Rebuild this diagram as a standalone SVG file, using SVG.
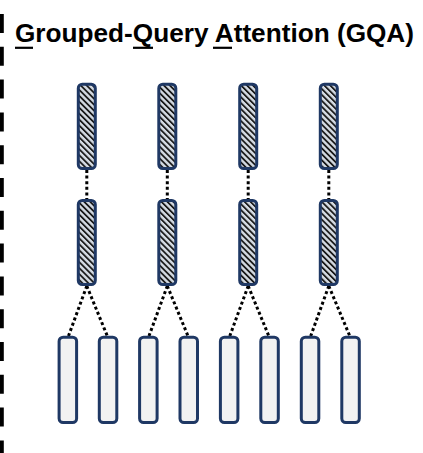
<svg xmlns="http://www.w3.org/2000/svg" width="423" height="453" viewBox="0 0 423 453">
  <style>
    .title { font-family: "Liberation Sans", Arial, sans-serif; font-weight: bold; font-size: 26.5px; fill: #000; }
    .uline { stroke: #000; stroke-width: 2.2; }
    .kv { fill: url(#hatch); stroke: #1f3864; stroke-width: 3; }
    .q { fill: #f2f2f2; stroke: #1f3864; stroke-width: 3; }
    .dot { stroke: #000; stroke-width: 3; stroke-dasharray: 3 2.6; fill: none; }
    .frame { stroke: #000; stroke-width: 4; stroke-dasharray: 19 13.8; fill: none; }
  </style>
  <defs>
    <pattern id="hatch" patternUnits="userSpaceOnUse" width="4.2" height="4.2" patternTransform="rotate(-45)">
      <rect x="0" y="0" width="4.2" height="4.2" fill="#d6dce4"/>
      <rect x="0" y="0" width="1.8" height="4.2" fill="#1a1a1a"/>
    </pattern>
  </defs>
  <rect width="423" height="453" fill="#ffffff"/>
  <line class="frame" x1="1.8" y1="14" x2="1.8" y2="453"/>
  <g id="title">
    <text class="title" x="15" y="41.5" textLength="399" lengthAdjust="spacingAndGlyphs">Grouped-Query Attention (GQA)</text>
    <line class="uline" x1="15" y1="47.8" x2="33" y2="47.8"/>
    <line class="uline" x1="133" y1="47.8" x2="153" y2="47.8"/>
    <line class="uline" x1="213" y1="47.8" x2="232" y2="47.8"/>
  </g>
  <g id="connectors">
    <line class="dot" x1="86.8" y1="170" x2="86.8" y2="199"/>
    <line class="dot" x1="167.3" y1="170" x2="167.3" y2="199"/>
    <line class="dot" x1="248.2" y1="170" x2="248.2" y2="199"/>
    <line class="dot" x1="328.8" y1="170" x2="328.8" y2="199"/>
    <line class="dot" x1="86.8" y1="286" x2="68.5" y2="336"/>
    <line class="dot" x1="86.8" y1="286" x2="107.3" y2="336"/>
    <line class="dot" x1="167.3" y1="286" x2="149" y2="336"/>
    <line class="dot" x1="167.3" y1="286" x2="188" y2="336"/>
    <line class="dot" x1="248.2" y1="286" x2="229.8" y2="336"/>
    <line class="dot" x1="248.2" y1="286" x2="268.8" y2="336"/>
    <line class="dot" x1="328.8" y1="286" x2="310.7" y2="336"/>
    <line class="dot" x1="328.8" y1="286" x2="349.8" y2="336"/>
  </g>
  <g id="key1"><rect class="kv" x="78.3" y="84.2" width="17" height="84.3" rx="4"/></g>
  <g id="key2"><rect class="kv" x="158.8" y="84.2" width="17" height="84.3" rx="4"/></g>
  <g id="key3"><rect class="kv" x="239.7" y="84.2" width="17" height="84.3" rx="4"/></g>
  <g id="key4"><rect class="kv" x="320.3" y="84.2" width="17" height="84.3" rx="4"/></g>
  <g id="value1"><rect class="kv" x="78.3" y="200.5" width="17" height="84" rx="4"/></g>
  <g id="value2"><rect class="kv" x="158.8" y="200.5" width="17" height="84" rx="4"/></g>
  <g id="value3"><rect class="kv" x="239.7" y="200.5" width="17" height="84" rx="4"/></g>
  <g id="value4"><rect class="kv" x="320.3" y="200.5" width="17" height="84" rx="4"/></g>
  <g id="query1"><rect class="q" x="59.1" y="337.2" width="17.5" height="85.3" rx="4"/></g>
  <g id="query2"><rect class="q" x="99.3" y="337.2" width="17.5" height="85.3" rx="4"/></g>
  <g id="query3"><rect class="q" x="139.6" y="337.2" width="17.5" height="85.3" rx="4"/></g>
  <g id="query4"><rect class="q" x="180" y="337.2" width="17.5" height="85.3" rx="4"/></g>
  <g id="query5"><rect class="q" x="220.4" y="337.2" width="17.5" height="85.3" rx="4"/></g>
  <g id="query6"><rect class="q" x="260.8" y="337.2" width="17.5" height="85.3" rx="4"/></g>
  <g id="query7"><rect class="q" x="301.3" y="337.2" width="17.5" height="85.3" rx="4"/></g>
  <g id="query8"><rect class="q" x="341.8" y="337.2" width="17.5" height="85.3" rx="4"/></g>
</svg>
